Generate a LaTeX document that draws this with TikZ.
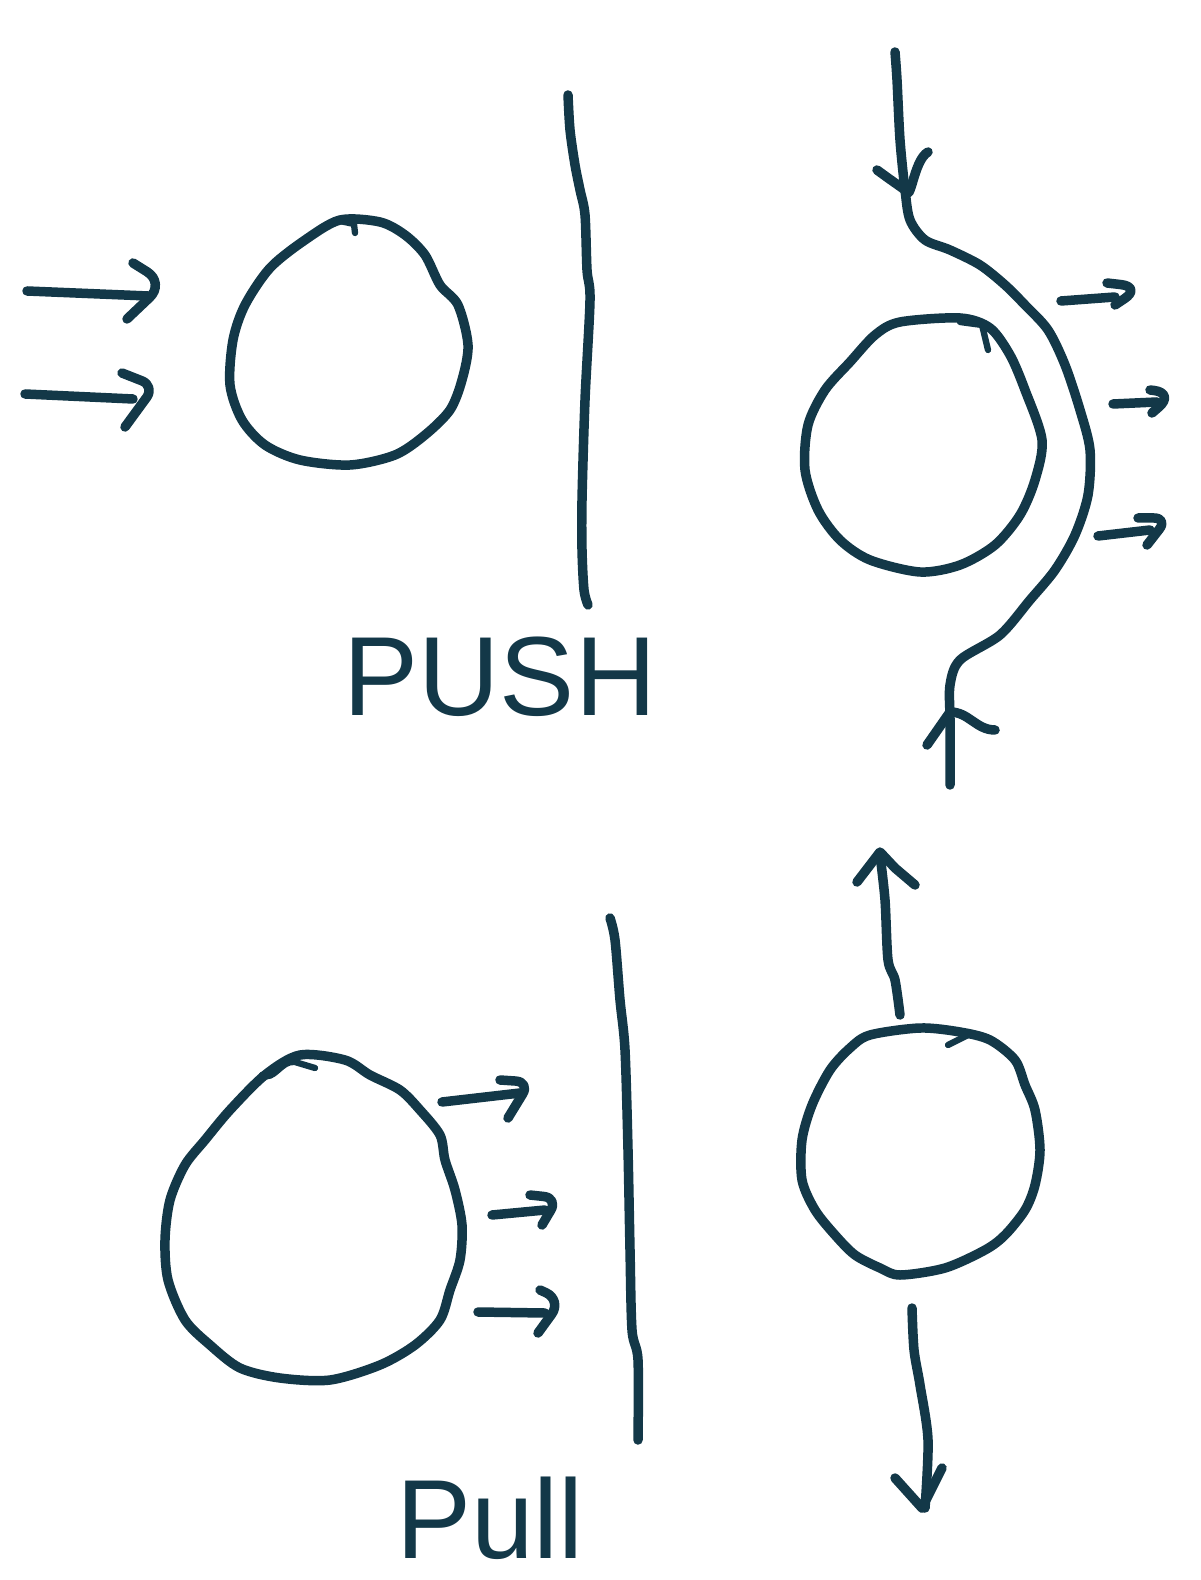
\documentclass[tikz,border=0pt]{standalone}
\usepackage{fontspec}
\setmainfont{Liberation Sans}
\usetikzlibrary{positioning}
\definecolor{ink}{HTML}{133848}

\begin{document}
\begin{tikzpicture}[x=0.01cm, y=-0.01cm,
						pen/.style={draw=ink, line width=2.7pt, line cap=round, line join=round},
						label/.style={text=ink, font=\fontsize{32}{36}\selectfont}]
						\useasboundingbox[fill=white] (0,0) rectangle (1200,1580);
						% push
						\draw[pen] (27,291) -- (148,296);
						\draw[pen, rounded corners=6pt] (133,263) -- (165,283) -- (127,319);
						\draw[pen] (25,394) -- (133,399);
						\draw[pen, rounded corners=4pt] (122,373) -- (155,386) -- (125,427);
						\draw[pen] plot[smooth cycle] coordinates {(340,220) (380,222) (405,235) (425,255) (440,285) (458,305) (468,345) (462,380) (450,410) (425,435) (395,455) (350,465) (300,460) (265,445) (242,420) (230,385) (233,340) (245,305) (270,268) (305,240)};
						\draw[pen, line width=1.8pt] (335,220) -- (354,224) -- (355,233);
						\draw[pen] plot[smooth] coordinates {(568,95) (570,130) (575,165) (580,190) (585,215) (587,270) (590,300) (585,400) (582,500) (582,550) (584,590) (588,605)};
						\node[label] (push) at (500,677) {PUSH};
						\draw[pen] plot[smooth] coordinates {(895,52) (897,80) (900,140) (905,190) (910,220) (925,240) (950,250) (980,265) (1005,285) (1025,305) (1048,330) (1065,365) (1080,410) (1090,450) (1088,495) (1075,535) (1055,570) (1030,600) (1000,635) (960,660) (950,685) (950,720) (950,785)};
						\draw[pen] (877,170) -- (888,178) -- (905,190);
						\draw[pen] (905,190) to[out=-70, in=-150] (928,152);
						\draw[pen] (927,745) -- (950,712);
						\draw[pen] (950,712) to[out=0, in=180] (995,730);
						\draw[pen] plot[smooth cycle] coordinates {(900,322) (960,318) (990,328) (1010,355) (1025,390) (1042,440) (1035,480) (1020,515) (995,545) (960,565) (920,572) (870,560) (840,540) (818,510) (805,470) (808,425) (825,390) (850,362) (875,335)};
						\draw[pen, line width=1.8pt] (960,322) -- (982,325) -- (988,350);
						\draw[pen] (1061,301) -- (1115,297);
						\draw[pen, rounded corners=6pt] (1107,283) -- (1142,287) -- (1115,305);
						\draw[pen] (1113,404) -- (1157,402);
						\draw[pen, rounded corners=6pt] (1150,390) -- (1175,393) -- (1152,413);
						\draw[pen] (1098,536) -- (1150,530);
						\draw[pen, rounded corners=4pt] (1138,518) -- (1168,518) -- (1147,545);
						% pull
						\draw[pen] plot[smooth cycle] coordinates {(300,1055) (345,1060) (370,1075) (400,1090) (420,1110) (440,1135) (445,1160) (455,1190) (462,1225) (460,1260) (450,1290) (440,1320) (415,1345) (380,1365) (330,1380) (280,1378) (240,1368) (210,1345) (185,1320) (168,1280) (165,1240) (170,1200) (185,1165) (205,1140) (230,1110) (265,1075)};
						\draw[pen, line width=1.8pt] (262,1075) to[out=-30, in=170] (295,1062) -- (315,1068);
						\draw[pen] (442,1102) -- (520,1093);
						\draw[pen, rounded corners=4pt] (500,1080) -- (530,1082) -- (508,1118);
						\draw[pen] (492,1215) -- (545,1210);
						\draw[pen, rounded corners=4pt] (530,1195) -- (558,1198) -- (542,1225);
						\draw[pen] (478,1312) -- (545,1313);
						\draw[pen, rounded corners=5pt] (540,1290) -- (562,1300) -- (538,1333);
						\draw[pen] plot[smooth] coordinates {(610,918) (615,940) (620,1000) (625,1050) (628,1150) (630,1250) (632,1330) (638,1360) (638,1440)};
						\node[label] (pull) at (490,1518) {Pull};
						\draw[pen] plot[smooth cycle] coordinates {(870,1035) (920,1028) (960,1032) (990,1040) (1015,1060) (1025,1085) (1035,1110) (1040,1150) (1035,1185) (1025,1210) (1005,1235) (985,1250) (945,1268) (900,1275) (880,1268) (855,1255) (835,1235) (815,1210) (802,1180) (802,1140) (812,1105) (830,1070) (850,1048)};
						\draw[pen, line width=1.8pt] (948,1045) -- (968,1035);
						\draw[pen] plot[smooth] coordinates {(900,1015) (895,980) (888,960) (885,900) (880,855)};
						\draw[pen] (857,882) -- (880,852) -- (895,868) -- (915,885);
						\draw[pen] plot[smooth] coordinates {(912,1308) (914,1350) (920,1385) (928,1440) (925,1508)};
						\draw[pen] (895,1478) -- (922,1508) -- (942,1468);
					\end{tikzpicture}
\end{document}
